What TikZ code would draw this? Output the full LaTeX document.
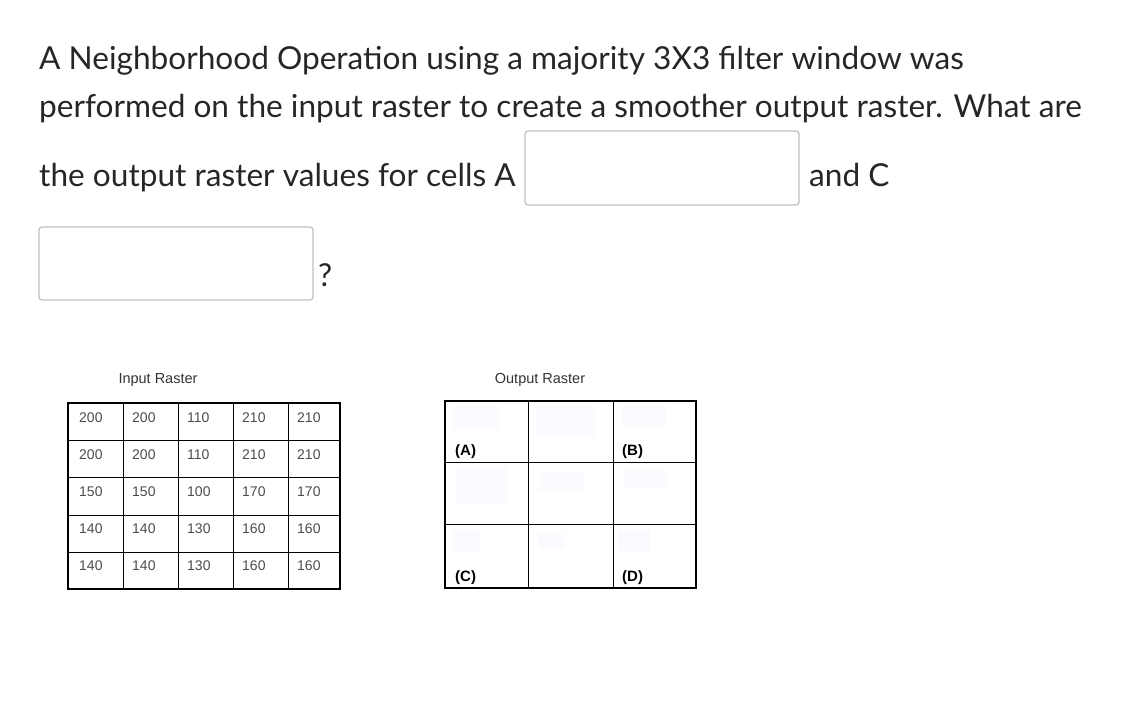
\documentclass[tikz,border=0pt]{standalone}
\usepackage{fontspec}
\setmainfont{Lato}
\newfontfamily\arialf{Liberation Sans}
\begin{document}
\begin{tikzpicture}[x=1pt,y=-1pt,
  qtext/.style={inner sep=0,anchor=base west,font=\fontsize{31.6}{36}\selectfont,text=black!85},
  field/.style={draw=black!25,line width=1.2pt,rounded corners=3pt,fill=white},
  cellnum/.style={inner sep=0,anchor=base west,font=\arialf\fontsize{14}{16}\selectfont,text=black!70},
  lab/.style={inner sep=0,anchor=base west,font=\arialf\bfseries\fontsize{15}{17}\selectfont},
  ttl/.style={inner sep=0,anchor=base,font=\arialf\fontsize{14.5}{16}\selectfont,text=black!80},
  ghost/.style={fill=blue!2,draw=none}]
\useasboundingbox (0,0) rectangle (1134,714);
\node[qtext] (l1) at (39,70) {A Neighborhood Operation using a majority 3X3 filter window was};
\node[qtext] (l2) at (39,118) {performed on the input raster to create a smoother output raster. What are};
\node[qtext] (l3) at (39,186) {the output raster values for cells A};
\draw[field] (525,131) rectangle (799,205);
\node[qtext] (l4) at (809,186) {and C};
\draw[field] (39,227) rectangle (313,300);
\node[qtext] (q) at (318,286) {?};
% input raster
\node[ttl] (it) at (158,383) {Input Raster};
\foreach \x in {68,123,178,233,288,340} \draw[line width=1pt] (\x,403) -- (\x,589);
\foreach \y in {403,440,477,515,552,589} \draw[line width=1pt] (68,\y) -- (340,\y);
\draw[line width=1.6pt] (68,403) rectangle (340,589);
\foreach \r/\vals in {0/{200,200,110,210,210},1/{200,200,110,210,210},2/{150,150,100,170,170},3/{140,140,130,160,160},4/{140,140,130,160,160}}{
  \foreach \v [count=\c from 0] in \vals {
    \pgfmathsetmacro\xx{\c==0?80:(\c==1?133:(\c==2?188:(\c==3?243:298)))}
    \node[cellnum] at (\xx-1,{403+\r*37.2+19}) {\v};
  }
}
% output raster
\node[ttl] (ot) at (540,383) {Output Raster};
\fill[ghost] (453,405) rectangle (499,429);
\fill[ghost] (536,405) rectangle (595,437);
\fill[ghost] (622,405) rectangle (666,427);
\fill[ghost] (456,467) rectangle (507,503);
\fill[ghost] (540,472) rectangle (584,491);
\fill[ghost] (624,469) rectangle (667,489);
\fill[ghost] (452,530) rectangle (481,551);
\fill[ghost] (538,534) rectangle (565,549);
\fill[ghost] (618,530) rectangle (650,551);
\foreach \x in {528,613} \draw[line width=1pt] (\x,401) -- (\x,588);
\foreach \y in {462,524} \draw[line width=1pt] (445,\y) -- (696,\y);
\draw[line width=1.6pt] (445,401) rectangle (696,588);
\node[lab] (A) at (455,455) {(A)};
\node[lab] (B) at (622,455) {(B)};
\node[lab] (C) at (455,581) {(C)};
\node[lab] (D) at (622,581) {(D)};
\end{tikzpicture}
\end{document}
